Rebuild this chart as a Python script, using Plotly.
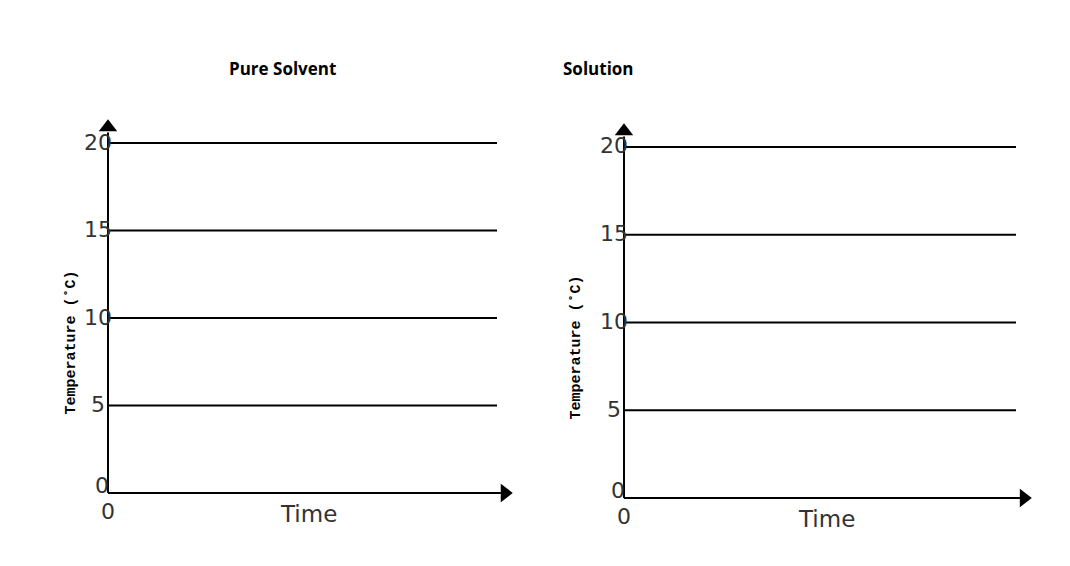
import plotly.graph_objects as go

W, H = 1070, 566
OFF = 8  # page body margin

titles = ["Pure Solvent", "Solution"]
y_ticks = [0, 5, 10, 15, 20]
grid_levels = [5, 10, 15, 20]
x_label = "Time"
y_label = "Temperature (˚C)"

# pixel positions of data x=0,10 and y=0,20 for each panel
panels = [(108, 497, 493, 143), (624, 1016, 498, 147)]
title_x = [227, 598]
XR = [-0.6, 11.0]
YR = [-0.8, 22.0]

fig = go.Figure()
layout = dict(width=W, height=H, margin=dict(l=0, r=0, t=0, b=0),
              paper_bgcolor="white", plot_bgcolor="white", showlegend=False)
annotations = []
shapes = []

for i, (x0, x1, yb, yt) in enumerate(panels):
    x0, x1, yb, yt = x0 - OFF, x1 - OFF, yb - OFF, yt - OFF
    n = "" if i == 0 else str(i + 1)
    xa, ya = "x" + n, "y" + n
    sx = (x1 - x0) / 10
    sy = (yb - yt) / 20
    layout["xaxis" + n] = dict(domain=[(x0 + XR[0] * sx) / W, (x0 + XR[1] * sx) / W],
                               range=XR, visible=False)
    layout["yaxis" + n] = dict(domain=[1 - (yb - YR[0] * sy) / H, 1 - (yb - YR[1] * sy) / H],
                               range=YR, visible=False)

    for g in grid_levels:
        fig.add_trace(go.Scatter(x=[0, 10], y=[g, g], mode="lines", xaxis=xa, yaxis=ya,
                                 line=dict(color="black", width=2), hoverinfo="skip"))
    fig.add_trace(go.Scatter(x=[0, 0], y=[0, 20.6], mode="lines", xaxis=xa, yaxis=ya,
                             line=dict(color="black", width=2), hoverinfo="skip"))
    fig.add_trace(go.Scatter(x=[0, 10.1], y=[0, 0], mode="lines", xaxis=xa, yaxis=ya,
                             line=dict(color="black", width=2), hoverinfo="skip"))
    fig.add_trace(go.Scatter(x=[0], y=[20.9], mode="markers", xaxis=xa, yaxis=ya,
                             marker=dict(symbol="triangle-up", size=16, color="black"),
                             hoverinfo="skip"))
    fig.add_trace(go.Scatter(x=[10.2], y=[0], mode="markers", xaxis=xa, yaxis=ya,
                             marker=dict(symbol="triangle-right", size=16, color="black"),
                             hoverinfo="skip"))

    for t in y_ticks:
        annotations.append(dict(x=0, y=t, xref=xa, yref=ya, text=str(t), showarrow=False,
                                xanchor="center", xshift=-10 if t else -6, yshift=1 if t else 8,
                                font=dict(family="DejaVu Sans", size=22, color="#333")))
    annotations.append(dict(x=0, y=0, xref=xa, yref=ya, text="0", showarrow=False,
                            yanchor="top", yshift=-4,
                            font=dict(family="DejaVu Sans", size=22, color="#333")))
    annotations.append(dict(x=5, y=0, xref=xa, yref=ya, text=x_label, showarrow=False,
                            xshift=6, yanchor="top", yshift=-6,
                            font=dict(family="DejaVu Sans", size=23, color="#333")))
    annotations.append(dict(x=(x0 - 48) / W, y=1 - ((yb + yt) / 2 + 25) / H, xref="paper",
                            yref="paper", text="<b>" + y_label + "</b>", showarrow=False,
                            textangle=-90,
                            font=dict(family="Liberation Mono", size=15, color="black")))
    annotations.append(dict(x=(title_x[i] - OFF) / W, y=1 - (55 - OFF) / H, xref="paper",
                            yref="paper", text="<b>" + titles[i] + "</b>", showarrow=False,
                            font=dict(family="Open Sans", size=17, color="black")))

layout["annotations"] = annotations
fig.update_layout(**layout)
fig.write_html("out.html")
